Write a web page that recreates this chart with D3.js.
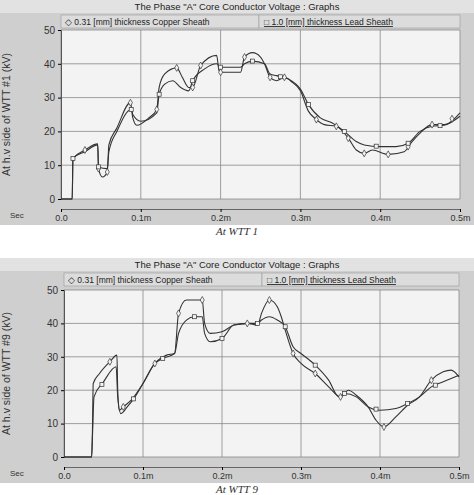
<!DOCTYPE html><html><head><meta charset="utf-8"><script src="https://cdn.jsdelivr.net/npm/d3@7"></script>
<style>body{margin:0;background:#fff}text{font-family:Arial,"Liberation Sans",sans-serif}text.cap{font-family:"Liberation Serif","DejaVu Serif",serif}</style></head><body><svg id="s" width="474" height="495"></svg>
<script>
const xTicks=[0,0.1,0.2,0.3,0.4,0.5];
const xTickLabels=["0.0","0.1m","0.2m","0.3m","0.4m","0.5m"];
const yTicks=[0,10,20,30,40,50];
const seriesNames=["0.31 [mm] thickness Copper Sheath","1.0 [mm] thickness Lead Sheath"];
const wtt1Copper=[[0,0],[0.014,0],[0.015,12],[0.03,14.5],[0.046,16.3],[0.047,9],[0.052,6.5],[0.058,8],[0.06,16],[0.07,21],[0.087,28.5],[0.09,24],[0.095,21.8],[0.11,24],[0.12,26.5],[0.123,33],[0.13,37],[0.145,38.8],[0.152,36],[0.16,33],[0.165,33],[0.175,39.5],[0.195,42.5],[0.198,38],[0.2,37.5],[0.225,37.5],[0.23,42],[0.24,43.3],[0.25,42],[0.255,40],[0.262,36],[0.27,35],[0.28,36],[0.29,34.5],[0.3,32],[0.31,26],[0.32,23.5],[0.33,22],[0.345,21.5],[0.36,18],[0.37,14.5],[0.38,13.5],[0.39,14.5],[0.41,13.2],[0.43,14],[0.44,17],[0.45,19.5],[0.465,22],[0.48,22],[0.5,25.5]];
const wtt1Lead=[[0,0],[0.014,0],[0.015,12],[0.03,14],[0.046,16],[0.047,9.5],[0.058,9],[0.06,14],[0.07,20],[0.088,26.5],[0.09,25],[0.1,23],[0.12,25.5],[0.123,31],[0.13,34],[0.14,35],[0.15,33],[0.16,32],[0.165,35],[0.18,38.5],[0.195,40],[0.2,39],[0.225,39],[0.23,40],[0.24,40.8],[0.255,40],[0.262,37],[0.27,36.5],[0.285,35.5],[0.3,32.5],[0.31,28],[0.325,24],[0.34,22.5],[0.355,20],[0.37,17],[0.38,16],[0.4,15.5],[0.42,15.5],[0.435,16.5],[0.45,20],[0.465,21.5],[0.48,21.8],[0.5,24.5]];
const wtt9Copper=[[0,0],[0.035,0],[0.036,8],[0.037,22],[0.045,25],[0.058,28.5],[0.067,30.5],[0.068,20],[0.07,14],[0.075,15],[0.085,17],[0.1,22],[0.115,28],[0.13,30.5],[0.14,31],[0.145,43],[0.155,47],[0.175,47],[0.178,40],[0.185,37],[0.2,37.5],[0.215,39.5],[0.232,40],[0.245,39.5],[0.25,43],[0.26,47],[0.27,45],[0.275,42],[0.28,38],[0.29,31],[0.3,28],[0.318,25],[0.335,21],[0.35,18],[0.36,20],[0.37,18.5],[0.385,15],[0.395,11],[0.405,9],[0.42,12],[0.435,15.5],[0.45,18],[0.465,23],[0.48,25.5],[0.49,26],[0.5,24]];
const wtt9Lead=[[0,0],[0.035,0],[0.036,6],[0.038,18],[0.05,22.5],[0.066,27],[0.068,18],[0.072,13],[0.08,15],[0.09,18],[0.1,22],[0.115,28],[0.125,29.5],[0.14,31],[0.145,37],[0.155,41],[0.165,42],[0.175,42],[0.178,37],[0.185,34.5],[0.2,35.5],[0.215,39.5],[0.235,40],[0.245,40],[0.25,41],[0.26,42],[0.27,41],[0.28,39],[0.29,33],[0.3,31],[0.318,27.5],[0.335,23],[0.348,18],[0.355,19],[0.37,18],[0.385,15],[0.4,14],[0.42,14.5],[0.435,16],[0.45,18],[0.465,21],[0.48,22.5],[0.5,24.5]];
const wtt1CopperMarks=[0.03,0.047,0.058,0.087,0.12,0.145,0.165,0.175,0.2,0.23,0.262,0.28,0.32,0.345,0.36,0.38,0.41,0.435,0.465,0.49];
const wtt1LeadMarks=[0.015,0.047,0.088,0.123,0.165,0.2,0.24,0.275,0.31,0.355,0.395,0.435,0.475];
const wtt9CopperMarks=[0.058,0.075,0.115,0.145,0.175,0.232,0.26,0.29,0.318,0.35,0.405,0.465];
const wtt9LeadMarks=[0.048,0.088,0.125,0.165,0.2,0.245,0.28,0.318,0.355,0.395,0.435,0.47];
const panels=[
 {top:0,l:61,r:460,yt:30,yb:199,ylabel:"At h.v side of  WTT #1 (kV)",cap:"At WTT 1",cu:wtt1Copper,pb:wtt1Lead,cm:wtt1CopperMarks,pm:wtt1LeadMarks},
 {top:258,l:64,r:459,yt:290,yb:457,ylabel:"At h.v side of WTT #9 (kV)",cap:"At WTT 9",cu:wtt9Copper,pb:wtt9Lead,cm:wtt9CopperMarks,pm:wtt9LeadMarks}];
const svg=d3.select("#s");
function interp(d,t){for(let i=1;i<d.length;i++){if(d[i][0]>=t){const a=d[i-1],b=d[i];return a[1]+(b[1]-a[1])*(t-a[0])/(b[0]-a[0]);}}return d[d.length-1][1];}
panels.forEach(p=>{
 const g=svg.append("g");
 const bottom=p.yb+26;
 g.append("rect").attr("x",0).attr("y",p.top).attr("width",474).attr("height",bottom-p.top).attr("fill","#cfcfcf");
 g.append("rect").attr("x",0).attr("y",p.top).attr("width",474).attr("height",13).attr("fill","#e2e2e2");
 g.append("text").attr("x",237).attr("y",p.top+10).attr("text-anchor","middle").attr("font-size",9.5).attr("fill","#222").text('The  Phase "A" Core Conductor Voltage : Graphs');
 g.append("rect").attr("x",p.l).attr("y",p.top+15).attr("width",198).attr("height",13).attr("fill","#dcdcdc").attr("stroke","#999").attr("stroke-width",0.6);
 g.append("rect").attr("x",p.l+198).attr("y",p.top+15).attr("width",p.r-p.l-198).attr("height",13).attr("fill","#dcdcdc").attr("stroke","#999").attr("stroke-width",0.6);
 g.append("text").attr("x",p.l+4).attr("y",p.top+25).attr("font-size",8.5).attr("fill","#222").text("◇ "+seriesNames[0]);
 g.append("text").attr("x",p.l+203).attr("y",p.top+25).attr("font-size",8.5).attr("fill","#222").attr("text-decoration","underline").text("□ "+seriesNames[1]);
 const x=d3.scaleLinear().domain([0,0.5]).range([p.l,p.r]);
 const y=d3.scaleLinear().domain([0,50]).range([p.yb,p.yt]);
 g.append("rect").attr("x",p.l).attr("y",p.yt).attr("width",p.r-p.l).attr("height",p.yb-p.yt).attr("fill","#f3f3f3");
 g.append("g").selectAll("line").data(xTicks).join("line").attr("x1",d=>x(d)).attr("x2",d=>x(d)).attr("y1",p.yt).attr("y2",p.yb).attr("stroke","#888").attr("stroke-width",0.8);
 g.append("g").selectAll("line").data(yTicks).join("line").attr("x1",p.l).attr("x2",p.r).attr("y1",d=>y(d)).attr("y2",d=>y(d)).attr("stroke","#888").attr("stroke-width",0.8);
 g.append("g").attr("transform",`translate(${p.l},0)`).call(d3.axisLeft(y).tickValues(yTicks).tickSize(3)).call(a=>{a.select(".domain").attr("stroke","#555");a.selectAll("text").attr("font-size",10).attr("fill","#333");});
 g.append("g").attr("transform",`translate(0,${p.yb+10})`).call(d3.axisBottom(x).tickValues(xTicks).tickFormat((d,i)=>xTickLabels[i]).tickSize(3)).call(a=>{a.select(".domain").attr("stroke","#666");a.selectAll("text").attr("font-size",9).attr("fill","#333");});
 g.append("text").attr("x",10).attr("y",p.yb+19).attr("font-size",8).attr("fill","#333").text("Sec");
 g.append("text").attr("transform",`translate(10,${(p.yt+p.yb)/2}) rotate(-90)`).attr("text-anchor","middle").attr("font-size",10.5).attr("fill","#333").text(p.ylabel);
 g.append("text").attr("class","cap").attr("x",237).attr("y",bottom+10).attr("text-anchor","middle").attr("font-size",11).attr("font-style","italic").attr("fill","#333").text(p.cap);
 const line=d3.line().x(d=>x(d[0])).y(d=>y(d[1])).curve(d3.curveMonotoneX);
 [p.cu,p.pb].forEach(d=>g.append("path").attr("d",line(d)).attr("fill","none").attr("stroke","#333").attr("stroke-width",1.1));
 g.selectAll(null).data(p.cm).join("path").attr("d",d3.symbol(d3.symbolDiamond,14)).attr("transform",d=>`translate(${x(d)},${y(interp(p.cu,d))})`).attr("fill","#f3f3f3").attr("stroke","#333").attr("stroke-width",0.7);
 g.selectAll(null).data(p.pm).join("rect").attr("x",d=>x(d)-2).attr("y",d=>y(interp(p.pb,d))-2).attr("width",4).attr("height",4).attr("fill","#f3f3f3").attr("stroke","#333").attr("stroke-width",0.7);
});
</script></body></html>
